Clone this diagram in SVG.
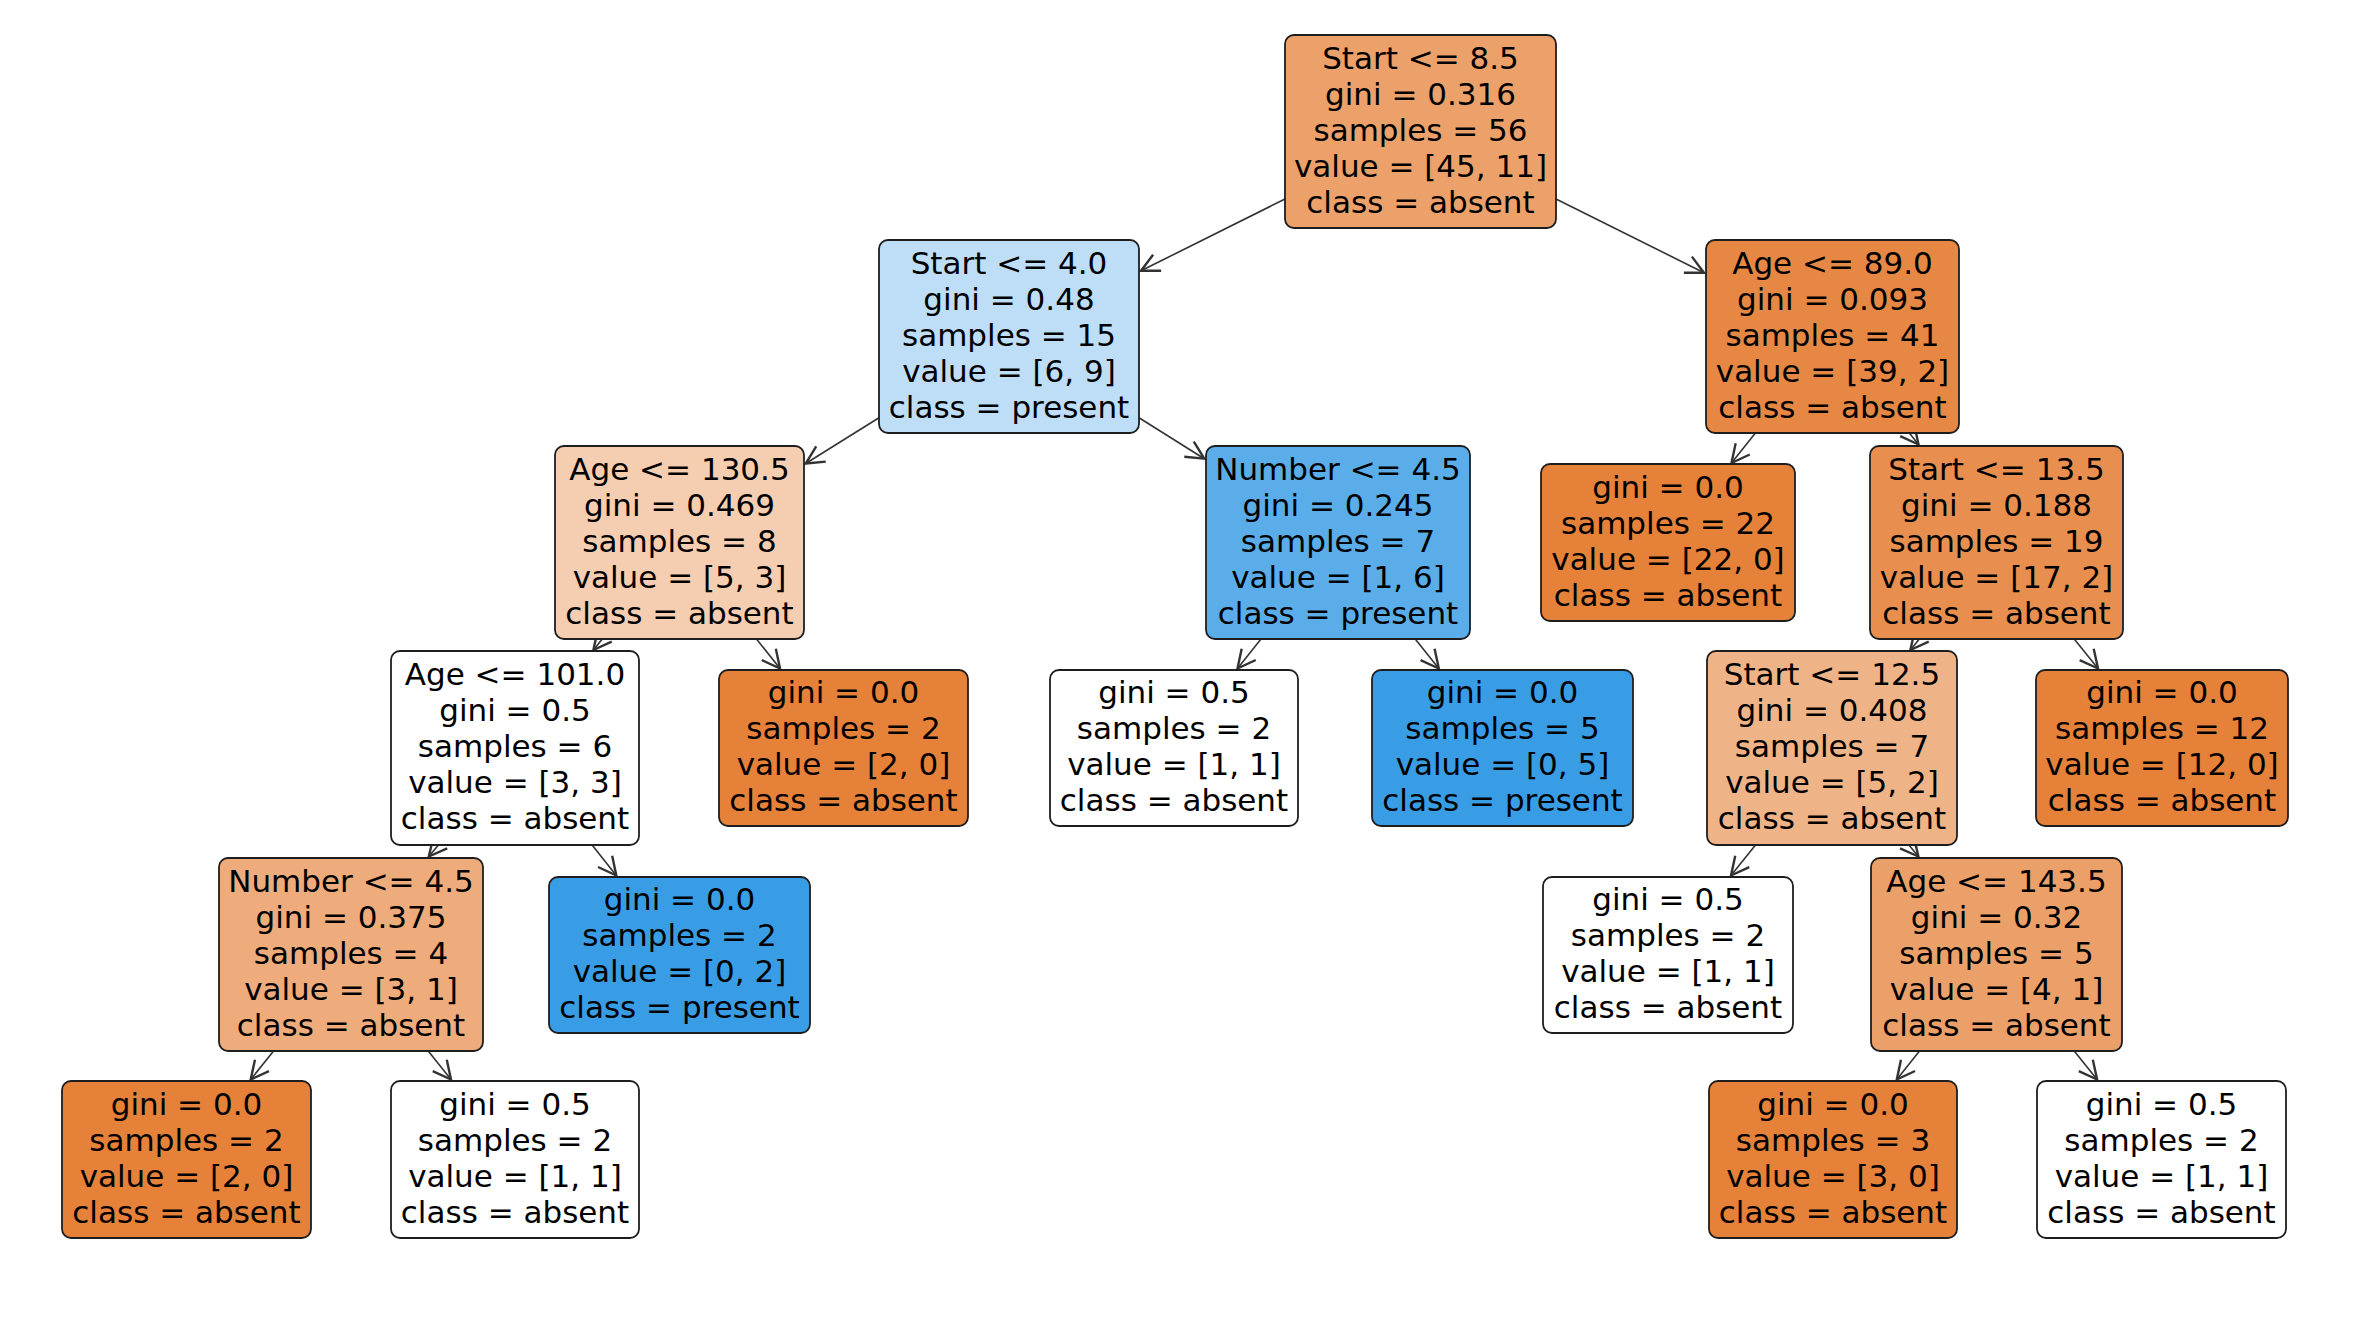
<svg xmlns="http://www.w3.org/2000/svg" width="2365" height="1317" viewBox="0 0 2365 1317">
<style>
  .box { stroke: #1e1e1e; stroke-width: 1.8; }
  .t { font-family: "DejaVu Sans", sans-serif; font-size: 31px; fill: #000; text-anchor: middle; }
  .edge { stroke: #333; stroke-width: 1.6; fill: none; marker-end: url(#ah); }
  .c-root { fill: #eca06a; }
  .c-l1 { fill: #bddef6; }
  .c-a89 { fill: #e68743; }
  .c-a130 { fill: #f5cdb0; }
  .c-num1 { fill: #5aade9; }
  .c-or { fill: #e58139; }
  .c-s13 { fill: #e88f4f; }
  .c-wh { fill: #ffffff; }
  .c-bl { fill: #399de5; }
  .c-s12 { fill: #efb388; }
  .c-num2 { fill: #eeab7b; }
  .c-a143 { fill: #eb9f69; }
</style>
<defs>
  <marker id="ah" markerUnits="userSpaceOnUse" markerWidth="30" markerHeight="30" viewBox="-15 -10 20 20" refX="0" refY="0" orient="auto">
    <path d="M -12 -6 L 0 0 L -12 6" fill="none" stroke="#333" stroke-width="1.6"/>
  </marker>
</defs>
<rect width="2365" height="1317" fill="#ffffff"/>

<g id="connectors">
  <line class="edge" x1="1285" y1="199" x2="1141" y2="270.8"/>
  <line class="edge" x1="1556" y1="199" x2="1704" y2="272.7"/>
  <line class="edge" x1="879" y1="417.8" x2="805.7" y2="463.5"/>
  <line class="edge" x1="1139" y1="417.8" x2="1204.3" y2="458.7"/>
  <line class="edge" x1="1755.4" y1="433" x2="1731.5" y2="463"/>
  <line class="edge" x1="1909.3" y1="433" x2="1918.5" y2="444.5"/>
  <line class="edge" x1="602.3" y1="639" x2="593.4" y2="650"/>
  <line class="edge" x1="756.5" y1="639" x2="780" y2="668.5"/>
  <line class="edge" x1="1261" y1="639" x2="1237.5" y2="668.5"/>
  <line class="edge" x1="1415.2" y1="639" x2="1438.8" y2="668.5"/>
  <line class="edge" x1="1919.3" y1="639" x2="1910.4" y2="650"/>
  <line class="edge" x1="2074.2" y1="639" x2="2098" y2="668.5"/>
  <line class="edge" x1="438.4" y1="845" x2="428.8" y2="856.5"/>
  <line class="edge" x1="592.1" y1="845" x2="616.3" y2="875.5"/>
  <line class="edge" x1="1755.5" y1="845" x2="1731" y2="875.5"/>
  <line class="edge" x1="1908.9" y1="845" x2="1918.4" y2="856.5"/>
  <line class="edge" x1="273.6" y1="1051" x2="250.7" y2="1079.5"/>
  <line class="edge" x1="428.2" y1="1051" x2="451" y2="1079.5"/>
  <line class="edge" x1="1919.5" y1="1051" x2="1896.8" y2="1079.5"/>
  <line class="edge" x1="2074.2" y1="1051" x2="2097.1" y2="1079.5"/>
</g>

<g id="n0">
  <rect class="box c-root" x="1285" y="35" width="271" height="193" rx="9"/>
  <text class="t" x="1420.5" y="68.5">Start &lt;= 8.5<tspan x="1420.5" dy="36">gini = 0.316</tspan><tspan x="1420.5" dy="36">samples = 56</tspan><tspan x="1420.5" dy="36">value = [45, 11]</tspan><tspan x="1420.5" dy="36">class = absent</tspan></text>
</g>
<g id="n1">
  <rect class="box c-l1" x="879" y="240" width="260" height="193" rx="9"/>
  <text class="t" x="1009" y="273.5">Start &lt;= 4.0<tspan x="1009" dy="36">gini = 0.48</tspan><tspan x="1009" dy="36">samples = 15</tspan><tspan x="1009" dy="36">value = [6, 9]</tspan><tspan x="1009" dy="36">class = present</tspan></text>
</g>
<g id="n2">
  <rect class="box c-a89" x="1706" y="240" width="253" height="193" rx="9"/>
  <text class="t" x="1832.5" y="273.5">Age &lt;= 89.0<tspan x="1832.5" dy="36">gini = 0.093</tspan><tspan x="1832.5" dy="36">samples = 41</tspan><tspan x="1832.5" dy="36">value = [39, 2]</tspan><tspan x="1832.5" dy="36">class = absent</tspan></text>
</g>
<g id="n3">
  <rect class="box c-a130" x="555" y="446" width="249" height="193" rx="9"/>
  <text class="t" x="679.5" y="479.5">Age &lt;= 130.5<tspan x="679.5" dy="36">gini = 0.469</tspan><tspan x="679.5" dy="36">samples = 8</tspan><tspan x="679.5" dy="36">value = [5, 3]</tspan><tspan x="679.5" dy="36">class = absent</tspan></text>
</g>
<g id="n4">
  <rect class="box c-num1" x="1206" y="446" width="264" height="193" rx="9"/>
  <text class="t" x="1338" y="479.5">Number &lt;= 4.5<tspan x="1338" dy="36">gini = 0.245</tspan><tspan x="1338" dy="36">samples = 7</tspan><tspan x="1338" dy="36">value = [1, 6]</tspan><tspan x="1338" dy="36">class = present</tspan></text>
</g>
<g id="n5">
  <rect class="box c-or" x="1541" y="464" width="254" height="157" rx="9"/>
  <text class="t" x="1668" y="497.5">gini = 0.0<tspan x="1668" dy="36">samples = 22</tspan><tspan x="1668" dy="36">value = [22, 0]</tspan><tspan x="1668" dy="36">class = absent</tspan></text>
</g>
<g id="n6">
  <rect class="box c-s13" x="1870" y="446" width="253" height="193" rx="9"/>
  <text class="t" x="1996.5" y="479.5">Start &lt;= 13.5<tspan x="1996.5" dy="36">gini = 0.188</tspan><tspan x="1996.5" dy="36">samples = 19</tspan><tspan x="1996.5" dy="36">value = [17, 2]</tspan><tspan x="1996.5" dy="36">class = absent</tspan></text>
</g>
<g id="n7">
  <rect class="box c-wh" x="391" y="651" width="248" height="194" rx="9"/>
  <text class="t" x="515" y="685">Age &lt;= 101.0<tspan x="515" dy="36">gini = 0.5</tspan><tspan x="515" dy="36">samples = 6</tspan><tspan x="515" dy="36">value = [3, 3]</tspan><tspan x="515" dy="36">class = absent</tspan></text>
</g>
<g id="n8">
  <rect class="box c-or" x="719" y="670" width="249" height="156" rx="9"/>
  <text class="t" x="843.5" y="703">gini = 0.0<tspan x="843.5" dy="36">samples = 2</tspan><tspan x="843.5" dy="36">value = [2, 0]</tspan><tspan x="843.5" dy="36">class = absent</tspan></text>
</g>
<g id="n9">
  <rect class="box c-wh" x="1050" y="670" width="248" height="156" rx="9"/>
  <text class="t" x="1174" y="703">gini = 0.5<tspan x="1174" dy="36">samples = 2</tspan><tspan x="1174" dy="36">value = [1, 1]</tspan><tspan x="1174" dy="36">class = absent</tspan></text>
</g>
<g id="n10">
  <rect class="box c-bl" x="1372" y="670" width="261" height="156" rx="9"/>
  <text class="t" x="1502.5" y="703">gini = 0.0<tspan x="1502.5" dy="36">samples = 5</tspan><tspan x="1502.5" dy="36">value = [0, 5]</tspan><tspan x="1502.5" dy="36">class = present</tspan></text>
</g>
<g id="n11">
  <rect class="box c-s12" x="1707" y="651" width="250" height="194" rx="9"/>
  <text class="t" x="1832" y="685">Start &lt;= 12.5<tspan x="1832" dy="36">gini = 0.408</tspan><tspan x="1832" dy="36">samples = 7</tspan><tspan x="1832" dy="36">value = [5, 2]</tspan><tspan x="1832" dy="36">class = absent</tspan></text>
</g>
<g id="n12">
  <rect class="box c-or" x="2036" y="670" width="252" height="156" rx="9"/>
  <text class="t" x="2162" y="703">gini = 0.0<tspan x="2162" dy="36">samples = 12</tspan><tspan x="2162" dy="36">value = [12, 0]</tspan><tspan x="2162" dy="36">class = absent</tspan></text>
</g>
<g id="n13">
  <rect class="box c-num2" x="219" y="858" width="264" height="193" rx="9"/>
  <text class="t" x="351" y="891.5">Number &lt;= 4.5<tspan x="351" dy="36">gini = 0.375</tspan><tspan x="351" dy="36">samples = 4</tspan><tspan x="351" dy="36">value = [3, 1]</tspan><tspan x="351" dy="36">class = absent</tspan></text>
</g>
<g id="n14">
  <rect class="box c-bl" x="549" y="877" width="261" height="156" rx="9"/>
  <text class="t" x="679.5" y="910">gini = 0.0<tspan x="679.5" dy="36">samples = 2</tspan><tspan x="679.5" dy="36">value = [0, 2]</tspan><tspan x="679.5" dy="36">class = present</tspan></text>
</g>
<g id="n15">
  <rect class="box c-wh" x="1543" y="877" width="250" height="156" rx="9"/>
  <text class="t" x="1668" y="910">gini = 0.5<tspan x="1668" dy="36">samples = 2</tspan><tspan x="1668" dy="36">value = [1, 1]</tspan><tspan x="1668" dy="36">class = absent</tspan></text>
</g>
<g id="n16">
  <rect class="box c-a143" x="1871" y="858" width="251" height="193" rx="9"/>
  <text class="t" x="1996.5" y="891.5">Age &lt;= 143.5<tspan x="1996.5" dy="36">gini = 0.32</tspan><tspan x="1996.5" dy="36">samples = 5</tspan><tspan x="1996.5" dy="36">value = [4, 1]</tspan><tspan x="1996.5" dy="36">class = absent</tspan></text>
</g>
<g id="n17">
  <rect class="box c-or" x="62" y="1081" width="249" height="157" rx="9"/>
  <text class="t" x="186.5" y="1114.5">gini = 0.0<tspan x="186.5" dy="36">samples = 2</tspan><tspan x="186.5" dy="36">value = [2, 0]</tspan><tspan x="186.5" dy="36">class = absent</tspan></text>
</g>
<g id="n18">
  <rect class="box c-wh" x="391" y="1081" width="248" height="157" rx="9"/>
  <text class="t" x="515" y="1114.5">gini = 0.5<tspan x="515" dy="36">samples = 2</tspan><tspan x="515" dy="36">value = [1, 1]</tspan><tspan x="515" dy="36">class = absent</tspan></text>
</g>
<g id="n19">
  <rect class="box c-or" x="1709" y="1081" width="248" height="157" rx="9"/>
  <text class="t" x="1833" y="1114.5">gini = 0.0<tspan x="1833" dy="36">samples = 3</tspan><tspan x="1833" dy="36">value = [3, 0]</tspan><tspan x="1833" dy="36">class = absent</tspan></text>
</g>
<g id="n20">
  <rect class="box c-wh" x="2037" y="1081" width="249" height="157" rx="9"/>
  <text class="t" x="2161.5" y="1114.5">gini = 0.5<tspan x="2161.5" dy="36">samples = 2</tspan><tspan x="2161.5" dy="36">value = [1, 1]</tspan><tspan x="2161.5" dy="36">class = absent</tspan></text>
</g>
</svg>
